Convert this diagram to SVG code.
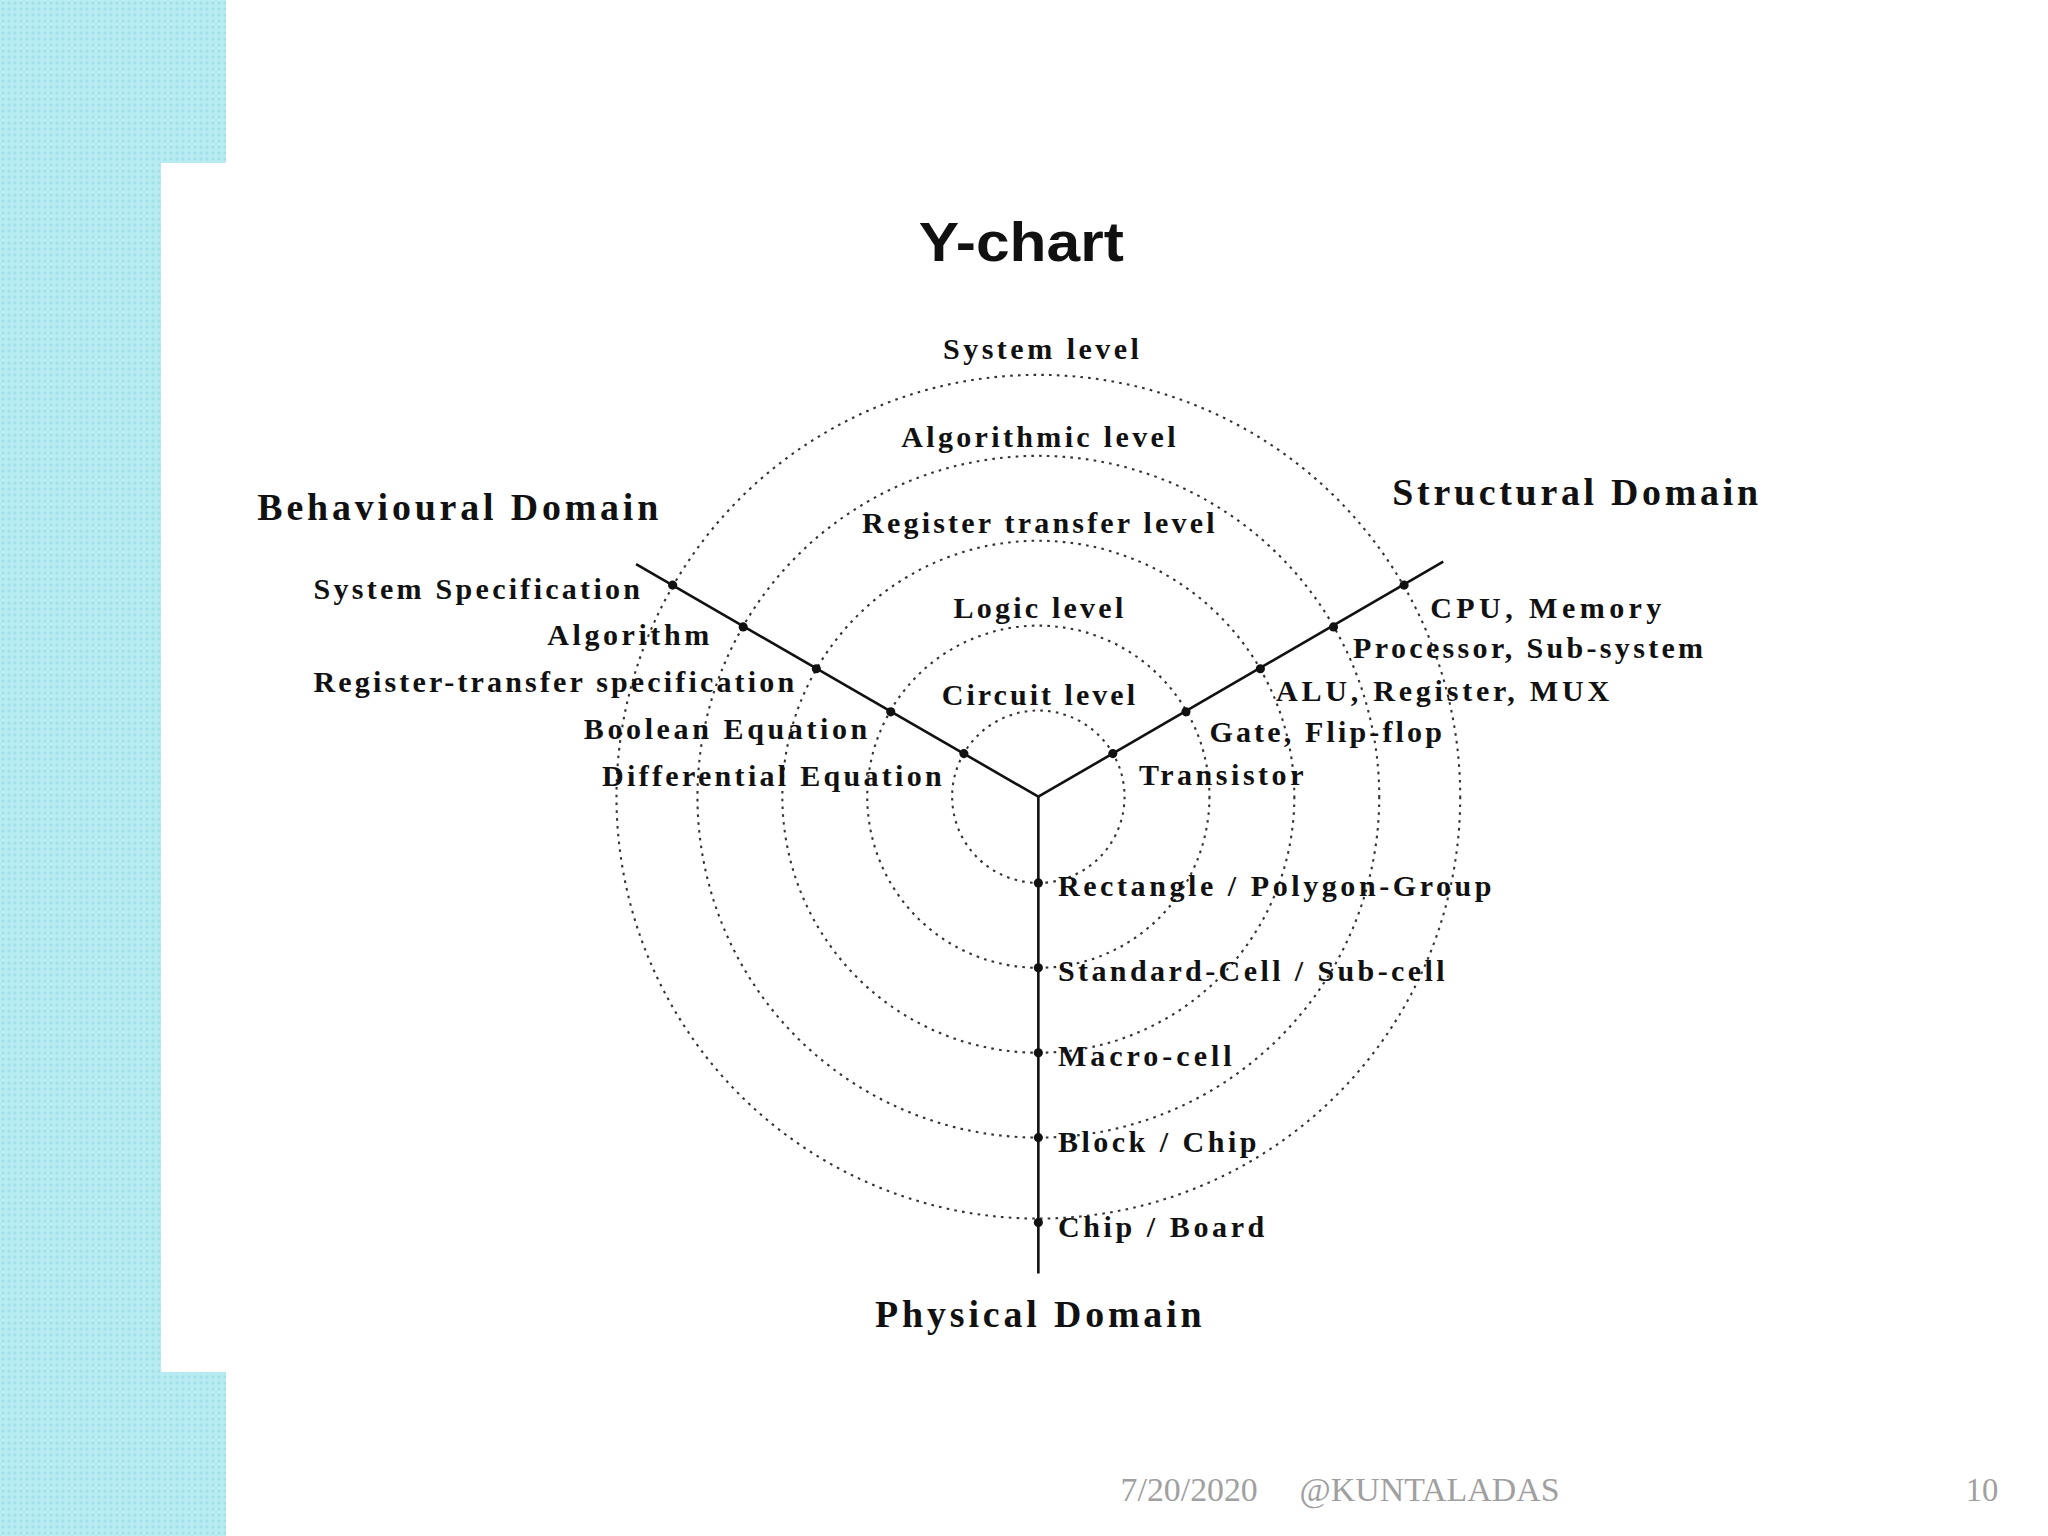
<svg xmlns="http://www.w3.org/2000/svg" width="2048" height="1536" viewBox="0 0 2048 1536">
<style>
.l{font-family:"Liberation Serif",serif;font-weight:bold;font-size:23px;fill:#111}
.d{font-family:"Liberation Serif",serif;font-weight:bold;font-size:29px;fill:#111}
.c{fill:none;stroke:#333;stroke-width:1.6;stroke-dasharray:2 4}
.a{stroke:#111;stroke-width:2}
.f{font-family:"Liberation Serif",serif;font-size:25px;fill:#a0a0a0}
</style>
<defs>
<pattern id="p" width="6" height="6" patternUnits="userSpaceOnUse"><rect width="6" height="6" fill="#b8ecf3"/><circle cx="3" cy="3" r="1.6" fill="#a2dfe9"/></pattern>
</defs>
<rect width="2048" height="1536" fill="#fff"/>
<rect width="226" height="1536" fill="url(#p)"/>
<rect x="161" y="163" width="1887" height="1209" fill="#fff"/>
<g transform="scale(1.3061)">
<text x="782" y="200" text-anchor="middle" textLength="157" lengthAdjust="spacingAndGlyphs" style="font-family:'Liberation Sans',sans-serif;font-weight:bold;font-size:43px;fill:#111">Y-chart</text>
<g id="rings">
<circle class="c" cx="795" cy="610" r="66"/>
<circle class="c" cx="795" cy="610" r="131"/>
<circle class="c" cx="795" cy="610" r="196"/>
<circle class="c" cx="795" cy="610" r="261"/>
<circle class="c" cx="795" cy="610" r="323"/>
</g>
<g id="connectors">
<line class="a" x1="795" y1="610" x2="487" y2="432"/>
<line class="a" x1="795" y1="610" x2="1105" y2="430"/>
<line class="a" x1="795" y1="610" x2="795" y2="975"/>
</g>
<g id="dots" fill="#111">
<circle cx="738" cy="577" r="3.5"/><circle cx="682" cy="545" r="3.5"/><circle cx="625" cy="512" r="3.5"/><circle cx="569" cy="480" r="3.5"/><circle cx="515" cy="448" r="3.5"/>
<circle cx="852" cy="577" r="3.5"/><circle cx="908" cy="545" r="3.5"/><circle cx="965" cy="512" r="3.5"/><circle cx="1021" cy="480" r="3.5"/><circle cx="1075" cy="448" r="3.5"/>
<circle cx="795" cy="676" r="3.5"/><circle cx="795" cy="741" r="3.5"/><circle cx="795" cy="806" r="3.5"/><circle cx="795" cy="871" r="3.5"/><circle cx="795" cy="936" r="3.5"/>
</g>
<g id="levels" class="l" text-anchor="middle">
<text x="797" y="275" textLength="150" lengthAdjust="spacing">System level</text>
<text x="795" y="342" textLength="210" lengthAdjust="spacing">Algorithmic level</text>
<text x="795" y="408" textLength="270" lengthAdjust="spacing">Register transfer level</text>
<text x="795" y="473" textLength="130" lengthAdjust="spacing">Logic level</text>
<text x="795" y="540" textLength="148" lengthAdjust="spacing">Circuit level</text>
</g>
<g id="domains" class="d">
<text x="197" y="398" textLength="307" lengthAdjust="spacing">Behavioural Domain</text>
<text x="1066" y="387" textLength="280" lengthAdjust="spacing">Structural Domain</text>
<text x="670" y="1016" textLength="250" lengthAdjust="spacing">Physical Domain</text>
</g>
<g id="behavioural" class="l">
<text x="240" y="459" textLength="250" lengthAdjust="spacing">System Specification</text>
<text x="419" y="494" textLength="124" lengthAdjust="spacing">Algorithm</text>
<text x="240" y="530" textLength="368" lengthAdjust="spacing">Register-transfer specification</text>
<text x="447" y="566" textLength="217" lengthAdjust="spacing">Boolean Equation</text>
<text x="461" y="602" textLength="260" lengthAdjust="spacing">Differential Equation</text>
</g>
<g id="structural" class="l">
<text x="1095" y="473" textLength="177" lengthAdjust="spacing">CPU, Memory</text>
<text x="1036" y="504" textLength="268" lengthAdjust="spacing">Processor, Sub-system</text>
<text x="977" y="537" textLength="255" lengthAdjust="spacing">ALU, Register, MUX</text>
<text x="926" y="568" textLength="178" lengthAdjust="spacing">Gate, Flip-flop</text>
<text x="872" y="601" textLength="126" lengthAdjust="spacing">Transistor</text>
</g>
<g id="physical" class="l">
<text x="810" y="686" textLength="332" lengthAdjust="spacing">Rectangle / Polygon-Group</text>
<text x="810" y="751" textLength="296" lengthAdjust="spacing">Standard-Cell / Sub-cell</text>
<text x="810" y="816" textLength="133" lengthAdjust="spacing">Macro-cell</text>
<text x="810" y="882" textLength="152" lengthAdjust="spacing">Block / Chip</text>
<text x="810" y="947" textLength="158" lengthAdjust="spacing">Chip / Board</text>
</g>
<g id="footer" class="f">
<text x="858" y="1149" textLength="105" lengthAdjust="spacingAndGlyphs">7/20/2020</text>
<text x="995" y="1149" textLength="199" lengthAdjust="spacingAndGlyphs">@KUNTALADAS</text>
<text x="1505" y="1149">10</text>
</g>
</g>
</svg>
